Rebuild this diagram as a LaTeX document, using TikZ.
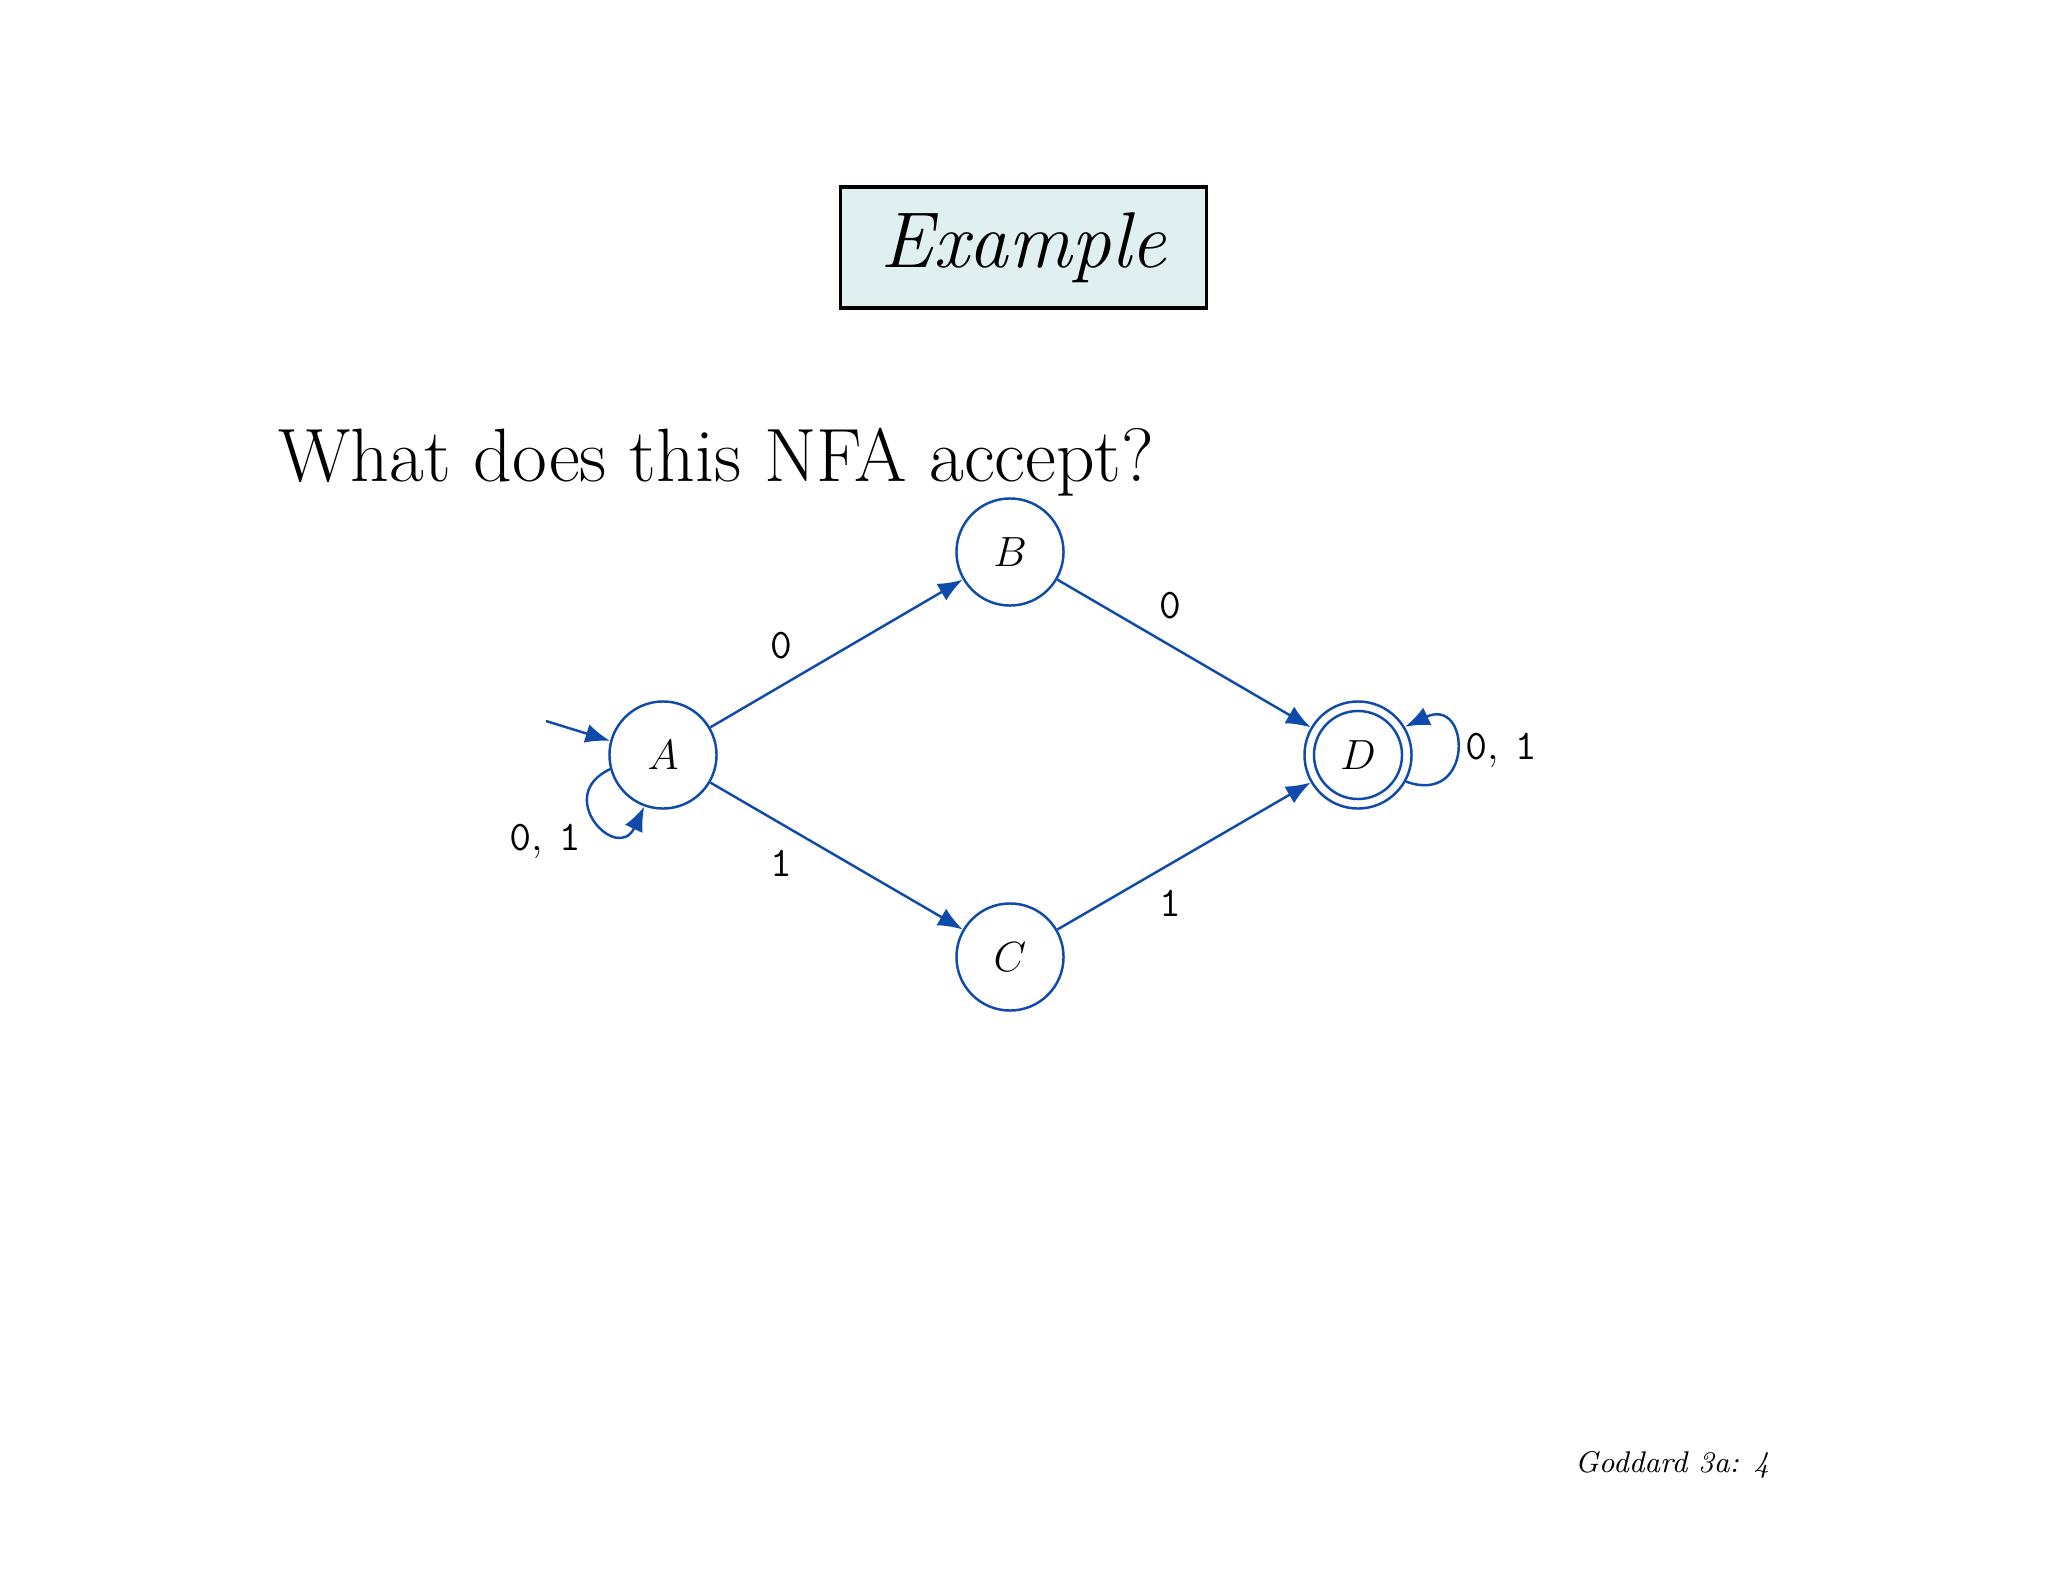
\documentclass[tikz,border=0pt]{standalone}
\usepackage{amsmath}
\usepackage{xcolor}
\usepackage{tikz}
\usetikzlibrary{arrows.meta}

\definecolor{nfablue}{RGB}{15,75,170}
\definecolor{titlefill}{RGB}{224,240,240}

\begin{document}
\begin{tikzpicture}[x=0.01cm,y=-0.01cm,
    >={Latex[length=7pt,width=5.5pt]},
    state/.style={circle,draw=nfablue,line width=0.7pt,minimum size=1.07cm,inner sep=0pt,font=\fontsize{13}{15}\selectfont},
    inner/.style={circle,draw=nfablue,line width=0.7pt,minimum size=0.88cm,inner sep=0pt,font=\fontsize{13}{15}\selectfont},
    trans/.style={->,draw=nfablue,line width=0.7pt},
    lab/.style={font=\fontsize{12}{14}\selectfont}]
    \useasboundingbox (0,0) rectangle (2048,1582);
    % Draw title and question
    \node[draw,line width=0.9pt,fill=titlefill,minimum width=3.65cm,minimum height=1.21cm,
          font=\fontsize{22.5}{26}\selectfont\itshape] (title) at (1023.5,247.5) {Example};
    \node[anchor=base west,inner sep=0pt,font=\fontsize{21.5}{25}\selectfont] (question) at (278,481) {What does this NFA accept?};
    % Draw states
    \node[state] (A) at (663,755) {$A$};
    \node[state] (B) at (1010,552) {$B$};
    \node[state] (C) at (1010,957) {$C$};
    \node[state] (D) at (1358,755) {};
    \node[inner] (Din) at (D) {$D$};
    \coordinate (start) at (546,721);
    % Draw transitions
    \draw[trans] (start) -- (A.165);
    \draw[trans] (A) -- node[lab,pos=.28,above=4pt] {$\mathtt{0}$} (B);
    \draw[trans] (B) -- node[lab,pos=.445,above=4pt] {$\mathtt{0}$} (D);
    \draw[trans] (A) -- node[lab,pos=.28,below=4pt] {$\mathtt{1}$} (C);
    \draw[trans] (C) -- node[lab,pos=.445,below=4pt] {$\mathtt{1}$} (D);
    \draw[trans] (A.195) to[out=205,in=245,looseness=3.2] (A.250);
    \draw[trans] (D.-29) to[out=-20,in=25,looseness=3.4] (D.31);
    \node[lab] (loopA) at (545,842) {$\mathtt{0},\:\mathtt{1}$};
    \node[lab] (loopD) at (1501,751) {$\mathtt{0},\:\mathtt{1}$};
    % Footer
    \node[anchor=base east,inner sep=0pt,font=\fontsize{8.5}{10}\selectfont\itshape] (footer) at (1770,1472) {Goddard 3a: 4};
\end{tikzpicture}
\end{document}
